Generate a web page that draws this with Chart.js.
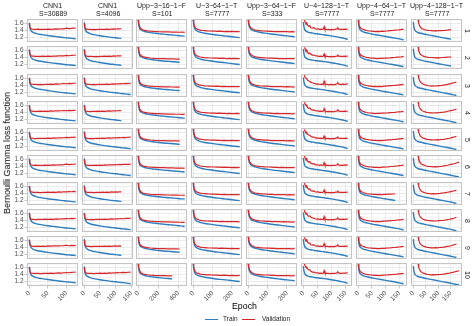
<!DOCTYPE html>
<html>
<head>
<meta charset="utf-8">
<script src="https://cdn.jsdelivr.net/npm/chart.js@4.4.1/dist/chart.umd.min.js"></script>
<style>
  body { margin: 0; background: #fff; }
  #fig { position: relative; width: 474px; height: 326px; overflow: hidden; font-family: "Liberation Sans", Arial, sans-serif; }
  #fig canvas { position: absolute; }
  .lbl { position: absolute; white-space: nowrap; line-height: 1; }
</style>
</head>
<body>
<div id="fig"></div>
<script>
// facet labels
const models = ['CNN1', 'CNN1', 'Upp−3−16−1−F', 'U−3−64−1−T', 'Upp−3−64−1−F', 'U−4−128−1−T', 'Upp−4−64−1−T', 'Upp−4−128−1−T'];
const seeds = ['S=30889', 'S=4096', 'S=101', 'S=7777', 'S=333', 'S=7777', 'S=7777', 'S=7777'];
const runs = ['1', '2', '3', '4', '5', '6', '7', '8', '9', '10'];

// axes
const yTicks = [1.2, 1.4, 1.6];
const yMinor = [1.1, 1.3, 1.5, 1.7];
const yLimits = [1.1, 1.7];
const xMaxEpoch = [125, 148, 465, 240, 240, 165, 170, 185];
const xTicks = [[0, 50, 100], [0, 50, 100, 150], [0, 200, 400], [0, 100, 200], [0, 100, 200], [0, 50, 100, 150], [0, 50, 100, 150], [0, 50, 100, 150]];
const xMinor = [[25, 75, 125], [25, 75, 125], [100, 300], [50, 150], [50, 150], [25, 75, 125], [25, 75, 125], [25, 75, 125]];

// ---- column 1: CNN1 S=30889
const epTrain1 = [0, 2, 5, 10, 20, 35, 50, 65, 80, 95, 110, 125];
const train1 = [
  [1.62,1.47,1.39,1.345,1.31,1.28,1.255,1.235,1.215,1.195,1.18,1.165],
  [1.63,1.48,1.40,1.35,1.315,1.285,1.26,1.24,1.22,1.20,1.185,1.17],
  [1.62,1.47,1.39,1.345,1.31,1.28,1.255,1.23,1.21,1.19,1.175,1.16],
  [1.61,1.46,1.385,1.34,1.305,1.275,1.25,1.23,1.21,1.19,1.175,1.16],
  [1.62,1.47,1.39,1.345,1.31,1.28,1.255,1.235,1.215,1.195,1.18,1.165],
  [1.63,1.48,1.395,1.35,1.31,1.28,1.255,1.235,1.215,1.195,1.18,1.165],
  [1.62,1.47,1.39,1.345,1.305,1.275,1.25,1.23,1.21,1.19,1.175,1.16],
  [1.62,1.47,1.39,1.34,1.305,1.275,1.25,1.23,1.21,1.19,1.175,1.16],
  [1.63,1.48,1.40,1.35,1.315,1.285,1.26,1.24,1.22,1.20,1.185,1.17],
  [1.62,1.47,1.39,1.345,1.31,1.28,1.255,1.235,1.215,1.195,1.18,1.165]
];
const epValid1 = [0, 1, 3, 5, 8, 12, 17, 23, 30, 37, 44, 51, 58, 65, 72, 79, 86, 93, 100, 107, 114, 120, 125];
const valid1 = [
  [1.60,1.51,1.46,1.445,1.44,1.435,1.43,1.44,1.43,1.435,1.43,1.44,1.435,1.44,1.445,1.44,1.45,1.445,1.465,1.455,1.46,1.47,1.465],
  [1.61,1.52,1.465,1.45,1.44,1.44,1.43,1.435,1.43,1.44,1.435,1.44,1.43,1.44,1.44,1.445,1.45,1.445,1.46,1.45,1.46,1.465,1.47],
  [1.60,1.50,1.455,1.44,1.435,1.43,1.435,1.425,1.43,1.425,1.435,1.43,1.44,1.435,1.445,1.44,1.45,1.455,1.45,1.46,1.455,1.465,1.47],
  [1.60,1.51,1.46,1.445,1.44,1.43,1.435,1.43,1.44,1.435,1.44,1.435,1.445,1.44,1.45,1.445,1.45,1.455,1.45,1.46,1.455,1.46,1.465],
  [1.59,1.50,1.455,1.44,1.435,1.43,1.425,1.435,1.43,1.435,1.43,1.44,1.435,1.445,1.44,1.45,1.445,1.45,1.46,1.455,1.465,1.46,1.47],
  [1.60,1.51,1.46,1.45,1.44,1.435,1.44,1.43,1.435,1.43,1.44,1.435,1.44,1.445,1.44,1.45,1.445,1.455,1.47,1.455,1.46,1.465,1.47],
  [1.61,1.51,1.46,1.445,1.44,1.43,1.435,1.43,1.425,1.435,1.43,1.44,1.435,1.44,1.435,1.445,1.44,1.45,1.445,1.455,1.45,1.46,1.455],
  [1.60,1.50,1.455,1.44,1.43,1.435,1.425,1.43,1.435,1.43,1.44,1.435,1.44,1.435,1.445,1.44,1.45,1.445,1.455,1.45,1.46,1.455,1.465],
  [1.60,1.51,1.46,1.445,1.44,1.435,1.43,1.44,1.435,1.44,1.435,1.445,1.44,1.445,1.45,1.445,1.45,1.455,1.465,1.45,1.46,1.455,1.46],
  [1.60,1.51,1.46,1.44,1.435,1.43,1.435,1.43,1.425,1.43,1.435,1.43,1.44,1.435,1.44,1.445,1.44,1.45,1.455,1.45,1.46,1.465,1.47]
];

// ---- column 2: CNN1 S=4096
const epTrain2 = [0, 2, 5, 10, 20, 35, 50, 65, 80, 95, 110, 118, 130, 140, 148];
const train2 = [
  [1.63,1.47,1.39,1.345,1.305,1.275,1.25,1.23,1.21,1.195,1.18,1.17],
  [1.64,1.48,1.40,1.35,1.31,1.28,1.255,1.235,1.215,1.20,1.185,1.175],
  [1.63,1.47,1.39,1.345,1.305,1.275,1.25,1.23,1.21,1.195,1.18,1.17,1.16,1.15,1.14],
  [1.62,1.47,1.385,1.34,1.30,1.27,1.245,1.225,1.205,1.19,1.175,1.165],
  [1.63,1.47,1.39,1.34,1.30,1.27,1.245,1.225,1.205,1.19,1.175,1.165,1.155,1.145,1.135],
  [1.63,1.48,1.395,1.345,1.305,1.275,1.25,1.23,1.21,1.195,1.18,1.17,1.16,1.15,1.14],
  [1.63,1.47,1.39,1.345,1.305,1.275,1.25,1.23,1.21,1.195,1.18,1.17],
  [1.62,1.47,1.385,1.34,1.30,1.27,1.245,1.225,1.205,1.19,1.175,1.165,1.155,1.145,1.135],
  [1.64,1.48,1.40,1.35,1.31,1.28,1.255,1.235,1.215,1.20,1.185,1.175],
  [1.63,1.47,1.39,1.345,1.305,1.275,1.25,1.23,1.21,1.195,1.18,1.17,1.16,1.145,1.135]
];
const epValid2 = [0, 1, 3, 5, 8, 12, 17, 23, 30, 37, 44, 51, 58, 65, 72, 79, 86, 93, 100, 107, 112, 118, 125, 132, 140, 148];
const valid2 = [
  [1.60,1.51,1.46,1.445,1.44,1.43,1.435,1.425,1.43,1.425,1.435,1.43,1.435,1.43,1.44,1.435,1.44,1.445,1.44,1.45,1.445,1.45],
  [1.61,1.52,1.465,1.45,1.44,1.435,1.43,1.435,1.425,1.43,1.425,1.435,1.43,1.44,1.435,1.44,1.435,1.445,1.44,1.45,1.445,1.445],
  [1.60,1.51,1.46,1.445,1.44,1.43,1.435,1.425,1.43,1.425,1.435,1.43,1.435,1.43,1.44,1.435,1.44,1.445,1.44,1.45,1.445,1.455,1.45,1.46,1.455,1.465],
  [1.60,1.50,1.455,1.44,1.435,1.43,1.425,1.43,1.435,1.43,1.44,1.435,1.44,1.435,1.44,1.445,1.44,1.45,1.445,1.45,1.455,1.45],
  [1.61,1.51,1.46,1.445,1.435,1.43,1.425,1.43,1.425,1.435,1.43,1.435,1.44,1.435,1.44,1.445,1.44,1.445,1.45,1.445,1.455,1.45,1.46,1.455,1.465,1.47],
  [1.60,1.51,1.46,1.45,1.44,1.435,1.43,1.435,1.43,1.44,1.435,1.44,1.435,1.445,1.44,1.445,1.45,1.445,1.455,1.45,1.46,1.455,1.46,1.465,1.46,1.47],
  [1.60,1.51,1.46,1.445,1.44,1.435,1.43,1.435,1.425,1.43,1.435,1.43,1.44,1.435,1.44,1.435,1.445,1.44,1.445,1.44,1.45,1.445],
  [1.60,1.50,1.455,1.44,1.435,1.43,1.425,1.43,1.425,1.43,1.435,1.43,1.435,1.44,1.435,1.44,1.445,1.44,1.45,1.445,1.45,1.455,1.45,1.46,1.465,1.46],
  [1.61,1.51,1.46,1.445,1.44,1.435,1.43,1.425,1.43,1.435,1.43,1.435,1.43,1.44,1.435,1.44,1.435,1.44,1.445,1.44,1.445,1.44],
  [1.60,1.51,1.46,1.445,1.44,1.43,1.435,1.43,1.425,1.435,1.43,1.44,1.435,1.44,1.435,1.445,1.44,1.45,1.445,1.455,1.45,1.455,1.46,1.455,1.465,1.47]
];

// ---- column 3: Upp-3-16-1-F S=101
const epTrain3 = [0, 3, 7, 12, 20, 30, 45, 65, 90, 120, 160, 200, 250, 300, 340, 380, 415, 440, 465];
const train3 = [
  [1.70,1.60,1.53,1.48,1.44,1.415,1.39,1.37,1.355,1.34,1.325,1.31,1.295,1.28,1.27,1.26,1.25,1.245,1.24],
  [1.70,1.60,1.53,1.48,1.445,1.42,1.395,1.375,1.36,1.345,1.33,1.315,1.30,1.29,1.28,1.27,1.26],
  [1.70,1.59,1.52,1.475,1.44,1.41,1.385,1.365,1.35,1.335,1.32,1.305,1.29,1.28,1.27,1.26,1.255],
  [1.70,1.60,1.53,1.48,1.44,1.415,1.39,1.37,1.355,1.34,1.325,1.31,1.295,1.28,1.27,1.26,1.25,1.245,1.235],
  [1.70,1.60,1.535,1.485,1.445,1.42,1.395,1.375,1.36,1.345,1.33,1.315,1.30,1.29,1.28,1.27,1.26],
  [1.70,1.60,1.53,1.48,1.44,1.415,1.39,1.37,1.355,1.34,1.325,1.31,1.295,1.285,1.275,1.265,1.255,1.25,1.245],
  [1.70,1.59,1.52,1.475,1.435,1.41,1.385,1.365,1.35,1.335,1.32,1.305,1.29,1.28,1.27,1.26,1.25,1.245,1.24],
  [1.70,1.60,1.53,1.48,1.44,1.415,1.39,1.37,1.355,1.34,1.325,1.31,1.295,1.28,1.27,1.26,1.25,1.24,1.235],
  [1.70,1.60,1.53,1.48,1.445,1.42,1.395,1.375,1.36,1.345,1.33,1.315,1.30,1.29,1.28,1.27,1.265],
  [1.70,1.59,1.525,1.48,1.44,1.415,1.39,1.37,1.355,1.34,1.325,1.31,1.295,1.285,1.275]
];
const epValid3 = [0, 3, 7, 12, 20, 30, 45, 65, 90, 120, 160, 200, 250, 300, 340, 380, 415, 440, 465];
const valid3 = [
  [1.70,1.62,1.56,1.51,1.47,1.445,1.42,1.405,1.39,1.38,1.372,1.365,1.36,1.358,1.355,1.352,1.35,1.352,1.348],
  [1.70,1.62,1.56,1.51,1.475,1.45,1.425,1.41,1.395,1.385,1.375,1.37,1.365,1.36,1.36,1.355,1.355],
  [1.70,1.61,1.555,1.505,1.47,1.445,1.42,1.405,1.39,1.38,1.372,1.367,1.362,1.36,1.357,1.355,1.355],
  [1.70,1.62,1.56,1.51,1.47,1.445,1.42,1.405,1.39,1.38,1.37,1.365,1.36,1.355,1.355,1.35,1.35,1.348,1.345],
  [1.70,1.62,1.565,1.515,1.475,1.45,1.425,1.41,1.395,1.385,1.375,1.37,1.365,1.36,1.36,1.358,1.355],
  [1.70,1.62,1.56,1.51,1.47,1.445,1.42,1.405,1.392,1.382,1.375,1.37,1.365,1.36,1.358,1.355,1.355,1.352,1.35],
  [1.70,1.61,1.55,1.505,1.465,1.44,1.415,1.40,1.388,1.378,1.37,1.365,1.36,1.357,1.355,1.352,1.35,1.35,1.348],
  [1.70,1.62,1.56,1.51,1.47,1.445,1.42,1.405,1.39,1.38,1.372,1.367,1.362,1.358,1.355,1.352,1.35,1.348,1.345],
  [1.70,1.62,1.56,1.515,1.475,1.45,1.425,1.41,1.395,1.385,1.377,1.37,1.366,1.362,1.36,1.358,1.357],
  [1.70,1.615,1.555,1.51,1.47,1.445,1.42,1.405,1.393,1.383,1.375,1.37,1.366,1.362,1.36]
];

// ---- column 4: U-3-64-1-T S=7777
const epTrain4 = [0, 2, 5, 9, 15, 25, 40, 60, 85, 110, 140, 170, 200, 240];
const train4 = [
  [1.70,1.58,1.49,1.44,1.40,1.37,1.345,1.32,1.30,1.28,1.26,1.24,1.22,1.195],
  [1.70,1.58,1.495,1.445,1.405,1.375,1.35,1.325,1.305,1.285,1.265,1.245,1.225,1.20],
  [1.70,1.57,1.485,1.435,1.395,1.365,1.34,1.315,1.295,1.275,1.255,1.235,1.215,1.19],
  [1.70,1.58,1.49,1.44,1.40,1.37,1.345,1.32,1.30,1.28,1.26,1.24,1.22,1.195],
  [1.70,1.58,1.49,1.44,1.40,1.37,1.34,1.315,1.295,1.275,1.255,1.235,1.215,1.19],
  [1.70,1.585,1.495,1.445,1.405,1.375,1.35,1.325,1.305,1.285,1.265,1.245,1.225,1.20],
  [1.70,1.58,1.49,1.44,1.40,1.37,1.345,1.32,1.30,1.28,1.26,1.24,1.22,1.195],
  [1.70,1.575,1.485,1.435,1.395,1.365,1.34,1.315,1.295,1.275,1.255,1.235,1.215,1.19],
  [1.70,1.58,1.49,1.44,1.40,1.37,1.345,1.32,1.30,1.28,1.26,1.24,1.22,1.195],
  [1.70,1.58,1.49,1.44,1.40,1.37,1.345,1.32,1.30,1.28,1.26,1.245,1.225,1.20]
];
const epValid4 = [0, 2, 5, 9, 14, 20, 28, 37, 47, 58, 70, 82, 95, 108, 121, 134, 147, 160, 173, 186, 199, 212, 226, 240];
const valid4 = [
  [1.70,1.61,1.54,1.49,1.46,1.44,1.425,1.41,1.40,1.395,1.39,1.385,1.38,1.385,1.375,1.38,1.375,1.37,1.375,1.37,1.375,1.37,1.365,1.37],
  [1.70,1.62,1.545,1.495,1.465,1.445,1.43,1.415,1.405,1.395,1.39,1.385,1.385,1.38,1.38,1.375,1.38,1.375,1.37,1.375,1.37,1.375,1.37,1.37],
  [1.70,1.61,1.54,1.49,1.46,1.44,1.42,1.41,1.40,1.39,1.385,1.38,1.385,1.375,1.38,1.375,1.37,1.375,1.37,1.37,1.365,1.37,1.365,1.37],
  [1.70,1.61,1.545,1.495,1.46,1.44,1.425,1.41,1.40,1.395,1.39,1.385,1.38,1.38,1.375,1.38,1.375,1.375,1.37,1.375,1.37,1.37,1.375,1.37],
  [1.70,1.61,1.54,1.49,1.46,1.44,1.42,1.41,1.40,1.39,1.39,1.385,1.38,1.38,1.375,1.375,1.37,1.375,1.37,1.37,1.375,1.37,1.365,1.37],
  [1.70,1.62,1.55,1.50,1.465,1.445,1.43,1.415,1.405,1.40,1.39,1.39,1.385,1.385,1.38,1.38,1.375,1.38,1.375,1.375,1.37,1.375,1.37,1.375],
  [1.70,1.61,1.54,1.49,1.46,1.44,1.425,1.41,1.40,1.395,1.39,1.385,1.38,1.38,1.375,1.375,1.37,1.375,1.37,1.37,1.37,1.365,1.37,1.365],
  [1.70,1.61,1.54,1.49,1.46,1.44,1.42,1.405,1.395,1.39,1.385,1.38,1.38,1.375,1.375,1.37,1.375,1.37,1.37,1.365,1.37,1.365,1.365,1.36],
  [1.70,1.61,1.545,1.495,1.46,1.44,1.425,1.41,1.40,1.395,1.39,1.385,1.385,1.38,1.38,1.375,1.38,1.375,1.375,1.37,1.375,1.37,1.37,1.37],
  [1.70,1.61,1.54,1.49,1.46,1.44,1.425,1.41,1.40,1.395,1.39,1.39,1.385,1.38,1.38,1.375,1.375,1.38,1.375,1.37,1.375,1.37,1.37,1.375]
];

// ---- column 5: Upp-3-64-1-F S=333
const epTrain5 = [0, 2, 5, 9, 15, 25, 40, 60, 85, 110, 140, 170, 200, 240];
const train5 = [
  [1.70,1.60,1.52,1.47,1.43,1.40,1.375,1.35,1.325,1.305,1.285,1.265,1.245,1.22],
  [1.70,1.60,1.52,1.47,1.43,1.40,1.375,1.35,1.33,1.31,1.29,1.27,1.25,1.225],
  [1.70,1.59,1.515,1.465,1.425,1.395,1.37,1.345,1.32,1.30,1.28,1.26,1.24,1.215],
  [1.70,1.60,1.52,1.47,1.43,1.40,1.375,1.35,1.325,1.305,1.285,1.265,1.245,1.22],
  [1.70,1.60,1.52,1.47,1.43,1.40,1.37,1.345,1.32,1.30,1.28,1.26,1.24,1.215],
  [1.70,1.605,1.525,1.475,1.435,1.405,1.38,1.355,1.33,1.31,1.29,1.27,1.25,1.225],
  [1.70,1.60,1.52,1.47,1.43,1.40,1.375,1.35,1.325,1.305,1.285,1.265,1.245,1.22],
  [1.70,1.595,1.515,1.465,1.425,1.395,1.37,1.345,1.32,1.30,1.28,1.26,1.24,1.215],
  [1.70,1.60,1.52,1.47,1.43,1.40,1.375,1.35,1.325,1.305,1.285,1.265,1.245,1.22],
  [1.70,1.60,1.52,1.47,1.43,1.40,1.375,1.35,1.325,1.305,1.285,1.265,1.245,1.225]
];
const epValid5 = [0, 2, 5, 9, 14, 20, 28, 37, 47, 58, 70, 82, 95, 108, 121, 134, 147, 160, 173, 186, 199, 212, 226, 240];
const valid5 = [
  [1.70,1.62,1.56,1.51,1.475,1.45,1.43,1.415,1.405,1.395,1.39,1.385,1.38,1.375,1.375,1.37,1.37,1.365,1.37,1.365,1.365,1.36,1.365,1.36],
  [1.70,1.62,1.565,1.515,1.48,1.455,1.435,1.42,1.41,1.40,1.395,1.39,1.385,1.38,1.38,1.375,1.375,1.37,1.37,1.37,1.365,1.37,1.365,1.365],
  [1.70,1.615,1.555,1.505,1.47,1.445,1.425,1.41,1.40,1.39,1.385,1.38,1.38,1.375,1.37,1.37,1.365,1.37,1.365,1.36,1.365,1.36,1.36,1.355],
  [1.70,1.62,1.56,1.51,1.475,1.45,1.43,1.415,1.405,1.395,1.39,1.385,1.38,1.38,1.375,1.37,1.375,1.37,1.365,1.37,1.365,1.365,1.36,1.365],
  [1.70,1.62,1.56,1.51,1.475,1.45,1.43,1.415,1.40,1.395,1.39,1.38,1.38,1.375,1.37,1.37,1.365,1.37,1.365,1.365,1.36,1.365,1.36,1.36],
  [1.70,1.625,1.565,1.515,1.48,1.455,1.435,1.42,1.41,1.40,1.395,1.39,1.385,1.385,1.38,1.375,1.375,1.37,1.375,1.37,1.37,1.365,1.37,1.365],
  [1.70,1.62,1.56,1.51,1.475,1.45,1.43,1.415,1.405,1.395,1.39,1.385,1.38,1.375,1.375,1.37,1.37,1.365,1.365,1.365,1.36,1.365,1.36,1.36],
  [1.70,1.615,1.555,1.505,1.47,1.445,1.425,1.41,1.40,1.39,1.385,1.38,1.375,1.375,1.37,1.37,1.365,1.365,1.36,1.365,1.36,1.36,1.355,1.36],
  [1.70,1.62,1.56,1.51,1.475,1.45,1.43,1.415,1.405,1.395,1.39,1.385,1.38,1.38,1.375,1.375,1.37,1.37,1.365,1.37,1.365,1.365,1.36,1.365],
  [1.70,1.62,1.56,1.51,1.475,1.45,1.43,1.415,1.405,1.395,1.39,1.385,1.385,1.38,1.375,1.375,1.37,1.37,1.37,1.365,1.365,1.365,1.36,1.365]
];

// ---- column 6: U-4-128-1-T S=7777
const epTrain6 = [0, 2, 4, 7, 11, 16, 22, 30, 40, 55, 70, 85, 100, 115, 130, 145, 158];
const train6 = [
  [1.64,1.52,1.45,1.40,1.375,1.355,1.34,1.33,1.315,1.30,1.28,1.265,1.245,1.225,1.20,1.175,1.145],
  [1.64,1.52,1.45,1.40,1.375,1.355,1.34,1.33,1.315,1.30,1.285,1.27,1.25,1.23,1.205,1.18,1.15],
  [1.63,1.51,1.445,1.395,1.37,1.35,1.335,1.325,1.31,1.295,1.28,1.26,1.24,1.22,1.195,1.17,1.14],
  [1.64,1.52,1.45,1.40,1.375,1.355,1.34,1.33,1.315,1.30,1.28,1.265,1.245,1.225,1.20,1.175,1.145],
  [1.64,1.52,1.45,1.40,1.375,1.355,1.34,1.33,1.315,1.30,1.28,1.26,1.24,1.22,1.195,1.17,1.14],
  [1.65,1.53,1.455,1.405,1.38,1.36,1.345,1.335,1.32,1.305,1.285,1.27,1.25,1.23,1.205,1.18,1.15],
  [1.64,1.52,1.45,1.40,1.375,1.355,1.34,1.33,1.315,1.30,1.28,1.265,1.245,1.225,1.20,1.175,1.145],
  [1.63,1.51,1.445,1.395,1.37,1.35,1.335,1.325,1.31,1.295,1.28,1.26,1.24,1.22,1.195,1.17,1.145],
  [1.64,1.52,1.45,1.40,1.375,1.355,1.34,1.33,1.315,1.30,1.28,1.265,1.245,1.225,1.20,1.175,1.145],
  [1.64,1.52,1.45,1.40,1.375,1.355,1.34,1.33,1.315,1.30,1.285,1.27,1.25,1.23,1.205,1.18,1.15]
];
const epValid6 = [0, 2, 4, 6, 9, 12, 15, 19, 23, 27, 32, 37, 42, 47, 52, 57, 62, 67, 71, 74, 77, 81, 86, 91, 96, 101, 106, 111, 116, 120, 123, 126, 131, 136, 141, 146, 151, 155, 158];
const valid6 = [
  [null,null,1.70,1.64,1.60,1.62,1.55,1.52,1.54,1.48,1.47,1.48,1.45,1.44,1.45,1.43,1.44,1.43,1.44,1.51,1.43,1.435,1.425,1.43,1.42,1.43,1.425,1.43,1.44,1.445,1.47,1.44,1.43,1.435,1.43,1.44,1.435,1.44,1.435],
  [null,null,1.69,1.65,1.59,1.61,1.56,1.51,1.53,1.49,1.47,1.47,1.45,1.445,1.44,1.435,1.44,1.43,1.435,1.50,1.43,1.44,1.43,1.425,1.43,1.42,1.43,1.425,1.435,1.44,1.465,1.445,1.43,1.43,1.435,1.44,1.43,1.44,1.44],
  [null,null,1.70,1.63,1.61,1.60,1.55,1.53,1.52,1.49,1.48,1.465,1.455,1.44,1.445,1.435,1.43,1.44,1.43,1.52,1.435,1.43,1.43,1.42,1.43,1.425,1.43,1.42,1.44,1.45,1.475,1.44,1.435,1.43,1.44,1.435,1.44,1.445,1.44],
  [null,null,1.70,1.64,1.61,1.61,1.54,1.52,1.53,1.485,1.47,1.475,1.45,1.445,1.445,1.435,1.44,1.43,1.435,1.51,1.435,1.43,1.425,1.43,1.425,1.43,1.42,1.43,1.435,1.445,1.47,1.445,1.43,1.43,1.435,1.44,1.43,1.44,1.44],
  [null,null,1.69,1.64,1.60,1.61,1.55,1.53,1.52,1.49,1.47,1.47,1.455,1.44,1.445,1.43,1.44,1.435,1.43,1.50,1.43,1.435,1.425,1.43,1.42,1.425,1.43,1.425,1.44,1.445,1.465,1.44,1.435,1.43,1.435,1.435,1.44,1.435,1.445],
  [null,null,1.70,1.65,1.60,1.62,1.56,1.52,1.54,1.49,1.475,1.48,1.455,1.445,1.45,1.435,1.445,1.435,1.44,1.51,1.435,1.44,1.43,1.435,1.425,1.43,1.43,1.435,1.44,1.45,1.47,1.445,1.435,1.44,1.435,1.445,1.44,1.445,1.44],
  [null,null,1.70,1.64,1.60,1.62,1.55,1.52,1.535,1.48,1.47,1.475,1.45,1.44,1.45,1.43,1.435,1.43,1.44,1.50,1.43,1.435,1.425,1.43,1.42,1.43,1.425,1.43,1.44,1.44,1.465,1.44,1.43,1.435,1.43,1.435,1.435,1.44,1.435],
  [null,null,1.70,1.63,1.60,1.61,1.55,1.52,1.53,1.49,1.475,1.47,1.45,1.44,1.445,1.43,1.44,1.435,1.43,1.51,1.43,1.435,1.425,1.425,1.42,1.43,1.42,1.43,1.435,1.445,1.47,1.44,1.43,1.43,1.44,1.435,1.44,1.44,1.445],
  [null,null,1.69,1.64,1.60,1.62,1.55,1.52,1.53,1.48,1.47,1.475,1.45,1.44,1.445,1.435,1.44,1.43,1.435,1.51,1.435,1.43,1.43,1.425,1.43,1.425,1.43,1.425,1.44,1.445,1.47,1.44,1.435,1.43,1.435,1.44,1.435,1.44,1.44],
  [null,null,1.70,1.65,1.61,1.61,1.56,1.53,1.53,1.49,1.47,1.47,1.455,1.445,1.445,1.435,1.44,1.435,1.44,1.51,1.435,1.44,1.43,1.43,1.425,1.43,1.43,1.43,1.44,1.45,1.47,1.445,1.435,1.435,1.44,1.44,1.44,1.445,1.445]
];

// ---- column 7: Upp-4-64-1-T S=7777
const epTrain7 = [0, 2, 4, 7, 11, 16, 22, 30, 42, 55, 70, 88, 105, 120, 135, 150, 166];
const train7 = [
  [1.68,1.54,1.46,1.42,1.39,1.37,1.35,1.335,1.31,1.29,1.27,1.245,1.22,1.20,1.18,1.16,1.135],
  [1.68,1.54,1.465,1.425,1.395,1.375,1.355,1.34,1.315,1.295,1.275,1.25,1.225,1.205,1.185,1.165,1.14],
  [1.67,1.53,1.455,1.415,1.385,1.365,1.345,1.33,1.305,1.285,1.265,1.24,1.215,1.195,1.175,1.155,1.13],
  [1.68,1.54,1.46,1.42,1.39,1.37,1.35,1.335,1.31,1.29,1.27,1.245,1.22,1.20,1.18,1.16,1.135],
  [1.67,1.53,1.455,1.415,1.385,1.365,1.345,1.33,1.305,1.285,1.265,1.24,1.215,1.195,1.175,1.155,1.13],
  [1.68,1.54,1.465,1.425,1.395,1.375,1.355,1.34,1.315,1.295,1.275,1.25,1.225,1.205,1.185,1.165,1.14],
  [1.68,1.55,1.47,1.43,1.40,1.38,1.36,1.345,1.325,1.305,1.285,1.26,1.24,1.22,1.20],
  [1.68,1.54,1.46,1.42,1.39,1.37,1.35,1.335,1.31,1.29,1.27,1.245,1.22,1.20,1.18,1.16,1.135],
  [1.67,1.535,1.455,1.415,1.385,1.365,1.345,1.33,1.305,1.285,1.265,1.24,1.215,1.195,1.175,1.155,1.13],
  [1.68,1.54,1.465,1.425,1.395,1.375,1.355,1.34,1.315,1.295,1.275,1.25,1.225,1.205,1.185,1.16,1.135]
];
const epValid7 = [0, 2, 4, 6, 9, 12, 16, 20, 25, 30, 36, 42, 48, 55, 62, 70, 78, 86, 94, 102, 110, 118, 126, 134, 142, 150, 158, 166];
const valid7 = [
  [1.71,1.58,1.52,1.50,1.47,1.45,1.44,1.425,1.41,1.40,1.39,1.385,1.38,1.375,1.37,1.375,1.37,1.38,1.375,1.385,1.39,1.395,1.40,1.41,1.415,1.42,1.43,1.435],
  [1.70,1.59,1.53,1.49,1.47,1.455,1.44,1.43,1.415,1.405,1.395,1.385,1.38,1.38,1.375,1.37,1.375,1.375,1.38,1.38,1.385,1.39,1.395,1.40,1.41,1.415,1.42,1.43],
  [1.71,1.58,1.52,1.49,1.465,1.45,1.435,1.42,1.41,1.40,1.39,1.38,1.38,1.37,1.375,1.37,1.375,1.37,1.38,1.38,1.39,1.395,1.40,1.405,1.41,1.42,1.425,1.43],
  [1.70,1.58,1.52,1.50,1.47,1.45,1.44,1.425,1.41,1.40,1.39,1.385,1.38,1.375,1.37,1.375,1.375,1.38,1.38,1.385,1.39,1.395,1.40,1.405,1.415,1.42,1.425,1.435],
  [1.71,1.59,1.525,1.49,1.47,1.45,1.435,1.425,1.41,1.40,1.395,1.385,1.38,1.375,1.375,1.37,1.375,1.37,1.375,1.38,1.39,1.39,1.40,1.405,1.41,1.42,1.425,1.43],
  [1.70,1.58,1.52,1.49,1.47,1.455,1.44,1.425,1.415,1.40,1.395,1.385,1.385,1.375,1.375,1.375,1.37,1.38,1.38,1.385,1.39,1.40,1.40,1.41,1.415,1.425,1.43,1.44],
  [1.71,1.58,1.52,1.49,1.465,1.45,1.435,1.42,1.41,1.40,1.39,1.385,1.38,1.375,1.375,1.37,1.375,1.37,1.375,1.375,1.38,1.38,1.385,1.39],
  [1.70,1.59,1.53,1.50,1.47,1.45,1.44,1.425,1.415,1.40,1.395,1.385,1.38,1.375,1.37,1.375,1.37,1.375,1.38,1.38,1.39,1.395,1.40,1.405,1.415,1.42,1.425,1.435],
  [1.71,1.58,1.52,1.49,1.47,1.45,1.435,1.425,1.41,1.40,1.39,1.385,1.38,1.375,1.375,1.37,1.37,1.375,1.375,1.38,1.385,1.39,1.40,1.40,1.41,1.415,1.425,1.43],
  [1.70,1.58,1.52,1.50,1.47,1.455,1.44,1.43,1.415,1.405,1.395,1.39,1.385,1.38,1.375,1.375,1.37,1.375,1.38,1.385,1.39,1.395,1.40,1.405,1.41,1.42,1.425,1.43]
];

// ---- column 8: Upp-4-128-1-T S=7777
const epTrain8 = [0, 2, 4, 7, 11, 16, 22, 30, 42, 55, 70, 88, 105, 120, 135, 150, 162, 172, 182];
const train8 = [
  [1.64,1.52,1.45,1.40,1.37,1.35,1.335,1.32,1.30,1.28,1.26,1.235,1.21,1.19,1.17,1.15],
  [1.65,1.53,1.455,1.405,1.375,1.355,1.34,1.325,1.305,1.285,1.265,1.24,1.215,1.195,1.175,1.155],
  [1.64,1.52,1.45,1.40,1.37,1.35,1.335,1.32,1.30,1.28,1.26,1.235,1.21,1.19,1.17,1.15,1.13,1.115],
  [1.64,1.52,1.45,1.40,1.37,1.35,1.33,1.315,1.295,1.275,1.255,1.23,1.205,1.185,1.165,1.145,1.125,1.11],
  [1.64,1.52,1.45,1.40,1.37,1.35,1.335,1.32,1.30,1.28,1.26,1.235,1.21,1.19,1.17,1.15,1.13,1.115],
  [1.64,1.52,1.45,1.40,1.37,1.35,1.335,1.32,1.30,1.28,1.26,1.235,1.21,1.19,1.17,1.15,1.13,1.115,1.10],
  [1.65,1.53,1.455,1.405,1.375,1.355,1.34,1.325,1.305,1.285,1.265,1.24,1.215,1.195,1.175,1.155,1.135,1.12],
  [1.64,1.52,1.45,1.40,1.37,1.35,1.33,1.315,1.295,1.275,1.255,1.23,1.205,1.185,1.165,1.145,1.125,1.11],
  [1.64,1.52,1.45,1.40,1.37,1.35,1.335,1.32,1.30,1.28,1.26,1.235,1.21,1.19,1.17,1.15,1.13,1.115],
  [1.64,1.52,1.45,1.40,1.37,1.35,1.335,1.32,1.30,1.28,1.26,1.235,1.21,1.19,1.17,1.15,1.13,1.115,1.105]
];
const epValid8 = [0, 4, 8, 12, 16, 19, 21, 24, 27, 31, 35, 40, 46, 52, 58, 65, 72, 80, 88, 96, 104, 112, 120, 128, 136, 144, 150, 156, 162, 167, 172, 177, 182];
const valid8 = [
  [null,null,null,null,null,1.71,1.62,1.56,1.51,1.47,1.45,1.44,1.42,1.41,1.405,1.40,1.395,1.39,1.395,1.39,1.40,1.395,1.40,1.405,1.41,1.42,1.425],
  [null,null,null,null,null,1.70,1.60,1.55,1.50,1.475,1.455,1.44,1.425,1.415,1.405,1.40,1.40,1.395,1.39,1.395,1.39,1.40,1.40,1.405,1.41,1.415,1.42],
  [null,null,null,null,null,1.71,1.63,1.56,1.52,1.48,1.46,1.44,1.42,1.41,1.40,1.39,1.385,1.39,1.385,1.39,1.395,1.40,1.41,1.42,1.43,1.445,1.455,1.47,1.48,1.49,1.50],
  [null,null,null,null,null,1.70,1.62,1.55,1.51,1.47,1.45,1.435,1.42,1.405,1.40,1.39,1.39,1.385,1.39,1.39,1.40,1.405,1.41,1.42,1.435,1.445,1.455,1.465,1.475,1.485,1.495],
  [null,null,null,null,null,1.71,1.62,1.56,1.51,1.48,1.455,1.44,1.425,1.41,1.40,1.395,1.39,1.385,1.39,1.395,1.39,1.40,1.405,1.415,1.425,1.435,1.445,1.46,1.47,1.48,1.49],
  [null,null,null,null,null,1.70,1.63,1.57,1.52,1.48,1.46,1.445,1.43,1.415,1.405,1.40,1.395,1.39,1.395,1.39,1.40,1.405,1.415,1.425,1.435,1.45,1.46,1.47,1.48,1.49,1.50,1.515,1.525],
  [null,null,null,null,null,1.71,1.62,1.56,1.51,1.47,1.45,1.44,1.42,1.41,1.40,1.395,1.39,1.395,1.39,1.395,1.40,1.41,1.415,1.425,1.435,1.445,1.455,1.465,1.475,1.485,1.495],
  [null,null,null,null,null,1.70,1.62,1.55,1.51,1.475,1.45,1.435,1.42,1.41,1.40,1.395,1.39,1.39,1.385,1.39,1.395,1.40,1.405,1.415,1.425,1.435,1.445,1.455,1.465,1.48,1.49],
  [null,null,null,null,null,1.71,1.63,1.56,1.52,1.48,1.455,1.44,1.425,1.41,1.40,1.395,1.39,1.39,1.395,1.39,1.40,1.405,1.41,1.42,1.43,1.44,1.45,1.465,1.475,1.485,1.495],
  [null,null,null,null,null,1.70,1.62,1.56,1.51,1.475,1.455,1.44,1.425,1.41,1.40,1.395,1.39,1.395,1.39,1.395,1.40,1.405,1.41,1.42,1.43,1.44,1.45,1.46,1.47,1.48,1.49,1.50,1.505]
];

const epochsTrain = [epTrain1, epTrain2, epTrain3, epTrain4, epTrain5, epTrain6, epTrain7, epTrain8];
const trainLoss = [train1, train2, train3, train4, train5, train6, train7, train8];
const epochsValid = [epValid1, epValid2, epValid3, epValid4, epValid5, epValid6, epValid7, epValid8];
const validLoss = [valid1, valid2, valid3, valid4, valid5, valid6, valid7, valid8];

// ---- layout
const TRAIN_COLOR = '#2D7DBF';
const VALID_COLOR = '#D7262B';
const FONT = '"Liberation Sans", Arial, sans-serif';
const fig = document.getElementById('fig');
const PW = 51, PH = 23;
const colLeft = c => Math.round(26.7 + c * 54.86);
const rowTop = r => Math.round(19.3 + r * 27.1);

// text centred on (cx, cy), snapped to whole pixels so rotated labels stay sharp
function addText(txt, cx, cy, size, rot, color) {
  const d = document.createElement('div');
  d.className = 'lbl';
  d.textContent = txt;
  d.style.fontSize = size + 'px';
  d.style.color = color || '#1a1a1a';
  if (rot === 90) d.style.writingMode = 'vertical-rl';
  if (rot === -90) { d.style.writingMode = 'vertical-rl'; d.style.transform = 'rotate(180deg)'; }
  fig.appendChild(d);
  d.style.left = Math.round(cx - d.offsetWidth / 2) + 'px';
  d.style.top = Math.round(cy - d.offsetHeight / 2) + 'px';
}

const panelBox = {
  id: 'panelBox',
  afterDraw(chart) {
    const a = chart.chartArea, ctx = chart.ctx;
    ctx.save();
    ctx.strokeStyle = '#c4c4c4';
    ctx.lineWidth = 1;
    ctx.strokeRect(a.left + 0.5, a.top + 0.5, a.right - a.left - 1, a.bottom - a.top - 1);
    ctx.restore();
  }
};

function points(xs, ys) {
  return ys.map((v, i) => ({ x: xs[i], y: v }));
}

function buildPanel(c, r) {
  const padL = c === 0 ? 0 : 6;
  const axisW = c === 0 ? 27 : 0;
  const axisH = r === 9 ? 24 : 0;
  const w = padL + axisW + PW + 3;
  const h = 1 + PH + axisH + (r === 9 ? 0 : 1);
  const cv = document.createElement('canvas');
  cv.width = w; cv.height = h;
  cv.style.width = w + 'px'; cv.style.height = h + 'px';
  cv.style.left = (colLeft(c) - padL - axisW) + 'px';
  cv.style.top = (rowTop(r) - 1) + 'px';
  fig.appendChild(cv);

  const M = xMaxEpoch[c];
  const xMajor = xTicks[c];
  const xAll = xMajor.concat(xMinor[c]).sort((a, b) => a - b);
  const yAll = yTicks.concat(yMinor).sort((a, b) => a - b);
  const lo = yLimits[0], hi = yLimits[1], ext = (hi - lo) * 0.05;

  new Chart(cv, {
    type: 'line',
    data: {
      datasets: [
        {
          label: 'Validation',
          data: points(epochsValid[c], validLoss[c][r]),
          borderColor: VALID_COLOR,
          borderWidth: 1.2,
          pointRadius: 0,
          tension: 0,
          order: 0
        },
        {
          label: 'Train',
          data: points(epochsTrain[c], trainLoss[c][r]),
          borderColor: TRAIN_COLOR,
          borderWidth: 1.4,
          pointRadius: 0,
          cubicInterpolationMode: 'monotone',
          order: 1
        }
      ]
    },
    options: {
      responsive: false,
      animation: false,
      devicePixelRatio: 1,
      events: [],
      layout: { padding: { left: padL, right: 3, top: 1, bottom: r === 9 ? 0 : 1 } },
      plugins: { legend: { display: false }, tooltip: { enabled: false } },
      scales: {
        x: {
          type: 'linear',
          min: -0.05 * M,
          max: 1.05 * M,
          afterBuildTicks: s => { s.ticks = xAll.map(v => ({ value: v })); },
          afterFit: s => { s.height = axisH; s.paddingLeft = 0; s.paddingRight = 0; },
          border: { display: false },
          grid: {
            color: ctx => xMajor.includes(ctx.tick.value) ? '#e2e2e2' : '#f0f0f0',
            lineWidth: ctx => xMajor.includes(ctx.tick.value) ? 0.7 : 0.5,
            drawTicks: r === 9,
            tickLength: 2.5,
            tickColor: ctx => xMajor.includes(ctx.tick.value) ? '#b3b3b3' : 'rgba(0,0,0,0)'
          },
          ticks: {
            display: r === 9,
            autoSkip: false,
            minRotation: 45,
            maxRotation: 45,
            padding: 1,
            color: '#4d4d4d',
            font: { family: FONT, size: 6.5 },
            callback: v => xMajor.includes(v) ? String(v) : ''
          }
        },
        y: {
          type: 'linear',
          min: lo - ext,
          max: hi + ext,
          afterBuildTicks: s => { s.ticks = yAll.map(v => ({ value: v })); },
          afterFit: s => { s.width = axisW; s.paddingTop = 0; s.paddingBottom = 0; },
          border: { display: false },
          grid: {
            color: ctx => yTicks.includes(ctx.tick.value) ? '#e2e2e2' : '#f0f0f0',
            lineWidth: ctx => yTicks.includes(ctx.tick.value) ? 0.7 : 0.5,
            drawTicks: c === 0,
            tickLength: 2.5,
            tickColor: ctx => yTicks.includes(ctx.tick.value) ? '#b3b3b3' : 'rgba(0,0,0,0)'
          },
          ticks: {
            display: c === 0,
            autoSkip: false,
            padding: 1,
            color: '#4d4d4d',
            font: { family: FONT, size: 6.5 },
            callback: v => yTicks.includes(v) ? v.toFixed(1) : ''
          }
        }
      }
    },
    plugins: [panelBox]
  });
}

for (let r = 0; r < runs.length; r++) {
  for (let c = 0; c < models.length; c++) buildPanel(c, r);
}

// strip labels
models.forEach((m, c) => {
  const cx = colLeft(c) + PW / 2;
  addText(m, cx, 5.9, 7);
  addText(seeds[c], cx, 13.1, 7);
});
runs.forEach((t, r) => addText(t, 467, rowTop(r) + PH / 2, 7, 90));

// axis titles
addText('Bernoulli Gamma loss function', 7, 153, 9, -90, '#000');
addText('Epoch', 244, 306.5, 8.8, 0, '#000');

// legend
function legendKey(x, color) {
  const d = document.createElement('div');
  d.style.position = 'absolute';
  d.style.left = x + 'px';
  d.style.top = '319px';
  d.style.width = '13px';
  d.style.height = '1px';
  d.style.background = color;
  fig.appendChild(d);
}
legendKey(205, TRAIN_COLOR);
addText('Train', 230, 319.4, 6.5, 0, '#1a1a1a');
legendKey(242, VALID_COLOR);
addText('Validation', 276, 319.4, 6.5, 0, '#1a1a1a');
</script>
</body>
</html>
